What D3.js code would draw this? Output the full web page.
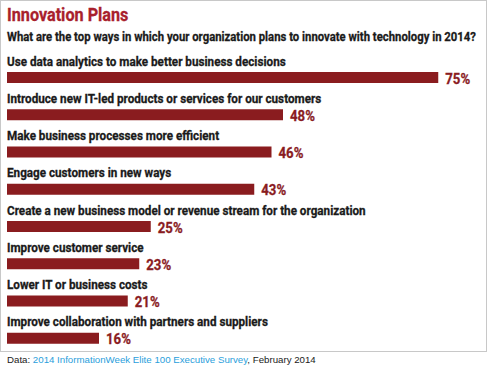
<!DOCTYPE html>
<html>
<head>
<meta charset="utf-8">
<style>
  body { margin: 0; background: #fff; }
</style>
</head>
<body>
<svg width="489" height="368"></svg>
<script src="https://d3js.org/d3.v7.min.js"></script>
<script>
var categories = [
  "Use data analytics to make better business decisions",
  "Introduce new IT-led products or services for our customers",
  "Make business processes more efficient",
  "Engage customers in new ways",
  "Create a new business model or revenue stream for the organization",
  "Improve customer service",
  "Lower IT or business costs",
  "Improve collaboration with partners and suppliers"
];
var values = [75, 48, 46, 43, 25, 23, 21, 16];

var svg = d3.select("svg");
var narrow = "Roboto, 'Liberation Sans', sans-serif";

// place a text at (x,y) squeezed horizontally by k, to fake a condensed face
function squeeze(sel, x, y, k) {
  sel.attr("transform", function(d, i) {
    var xx = typeof x === "function" ? x(d, i) : x;
    return "translate(" + xx + "," + y + ") scale(" + k + ",1)";
  });
}

// frame
svg.append("rect")
  .attr("x", 0.5).attr("y", 0.5)
  .attr("width", 486).attr("height", 351)
  .attr("fill", "#fff").attr("stroke", "#c8c8c8");

svg.append("text")
  .call(squeeze, 7, 21, 0.9)
  .style("font-family", narrow)
  .attr("font-size", 18).attr("font-weight", "bold")
  .attr("fill", "#a8202c").attr("stroke", "#a8202c").attr("stroke-width", 0.3)
  .text("Innovation Plans");

svg.append("text")
  .call(squeeze, 7, 41, 0.84)
  .style("font-family", narrow)
  .attr("font-size", 13.5).attr("font-weight", "bold")
  .attr("fill", "#1a1a1a").attr("stroke", "#1a1a1a").attr("stroke-width", 0.3)
  .text("What are the top ways in which your organization plans to innovate with technology in 2014?");

var x = d3.scaleLinear().domain([0, 100]).range([7, 582]);
var y = d3.scaleBand().domain(d3.range(categories.length)).range([48, 346]);

var row = svg.selectAll(".row")
  .data(values)
  .enter().append("g")
    .attr("class", "row")
    .attr("transform", function(d, i) { return "translate(0," + y(i) + ")"; });

row.append("text")
  .call(squeeze, 7, 17.5, 0.9)
  .style("font-family", narrow)
  .attr("font-size", 13).attr("font-weight", "bold")
  .attr("fill", "#1a1a1a").attr("stroke", "#1a1a1a").attr("stroke-width", 0.3)
  .text(function(d, i) { return categories[i]; });

row.append("rect")
  .attr("x", x(0)).attr("y", 24)
  .attr("width", function(d) { return x(d) - x(0); })
  .attr("height", 11)
  .attr("fill", "#8a1c1f");

row.append("text")
  .call(squeeze, function(d) { return x(d) + 7; }, 35.5, 0.88)
  .style("font-family", narrow)
  .attr("font-size", 15).attr("font-weight", "bold")
  .attr("fill", "#8a1c1f").attr("stroke", "#8a1c1f").attr("stroke-width", 0.3)
  .text(function(d) { return d + "%"; });

var foot = svg.append("text")
  .attr("x", 7).attr("y", 363)
  .style("font-family", "'Liberation Sans', Arial, sans-serif")
  .attr("font-size", 9.7)
  .attr("fill", "#1a1a1a");
foot.append("tspan").text("Data: ");
foot.append("tspan").attr("fill", "#2aa0dc").text("2014 InformationWeek Elite 100 Executive Survey");
foot.append("tspan").text(", February 2014");
</script>
</body>
</html>
